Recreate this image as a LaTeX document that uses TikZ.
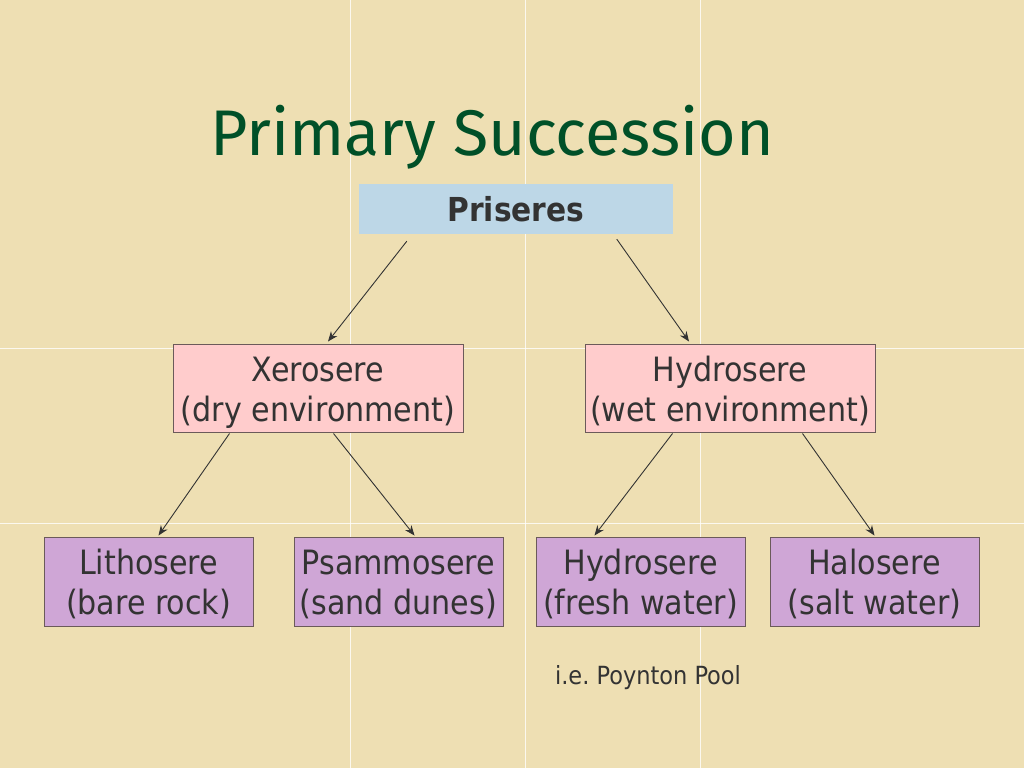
\documentclass[tikz,border=0pt]{standalone}
\usepackage{fontspec}
\setmainfont{DejaVu Sans Condensed}
\newfontfamily\titlefont{Fira Sans}
\usetikzlibrary{arrows.meta,calc}
\definecolor{bg}{HTML}{EEDFB3}
\definecolor{titlegreen}{HTML}{005028}
\definecolor{blueb}{HTML}{BDD7E7}
\definecolor{pinkb}{HTML}{FFCCCC}
\definecolor{purpb}{HTML}{CFA6D6}
\definecolor{txt}{HTML}{333333}
\definecolor{edge}{HTML}{6B5A5A}
\newcommand{\topln}{\rule{0pt}{33pt}}
\newcommand{\botln}{\rule[-7pt]{0pt}{7pt}}
\tikzset{
  box/.style={draw=edge, line width=1pt, inner sep=0pt, align=center, text=txt,
    font=\fontsize{33.5}{40}\selectfont},
  midbox/.style={box, fill=pinkb, minimum width=290pt, minimum height=88pt},
  leafbox/.style={box, fill=purpb, minimum width=209pt, minimum height=89pt},
  conn/.style={draw=txt, line width=0.9pt, -{Stealth[length=10pt,width=8pt]}},
  grid/.style={draw=white, line width=0.8pt, opacity=0.8}
}
\begin{document}
\begin{tikzpicture}[x=1pt,y=-1pt]
\useasboundingbox (0,0) rectangle (1024,768);
\fill[bg] (0,0) rectangle (1024,768);
\foreach \gx in {350,525,700} \draw[grid] (\gx,0) -- (\gx,768);
\foreach \gy in {348,523} \draw[grid] (0,\gy) -- (1024,\gy);

\node[text=titlegreen, font=\titlefont\fontsize{64.5}{70}\selectfont, anchor=base] (title) at (492,155) {Primary Succession};

\node[fill=blueb, minimum width=314pt, minimum height=50pt, inner sep=0pt, text=txt,
  font=\bfseries\fontsize{33}{38}\selectfont] (pri) at (516,209) {Priseres};

\node[midbox] (xer) at (318,388) {\topln Xerosere\\(dry environment)\botln};
\node[midbox] (hyd) at (730,388) {\topln Hydrosere\\(wet environment)\botln};

\node[leafbox] (lit) at (148.5,581.5) {\topln Lithosere\\(bare rock)\botln};
\node[leafbox] (psa) at (398.5,581.5) {\topln Psammosere\\(sand dunes)\botln};
\node[leafbox] (hfw) at (640.5,581.5) {\topln Hydrosere\\(fresh water)\botln};
\node[leafbox] (hal) at (874.5,581.5) {\topln Halosere\\(salt water)\botln};

\node[text=txt, font=\fontsize{25}{30}\selectfont] (note) at (648,678) {i.e.\ Poynton Pool};

\coordinate (p1) at ($(pri.south west)+(48,7)$);
\coordinate (p2) at ($(pri.south west)+(258,5)$);
\coordinate (x1) at ($(xer.south west)+(57,1)$);
\coordinate (x2) at ($(xer.south west)+(161,1)$);
\coordinate (h1) at ($(hyd.south west)+(88,1)$);
\coordinate (h2) at ($(hyd.south west)+(218,1)$);

\draw[conn] (p1) -- ($(xer.north)+(10,-2)$);
\draw[conn] (p2) -- ($(hyd.north)+(-41,-2)$);
\draw[conn] (x1) -- ($(lit.north)+(10,-1)$);
\draw[conn] (x2) -- ($(psa.north)+(16,-1)$);
\draw[conn] (h1) -- ($(hfw.north)+(-46,-1)$);
\draw[conn] (h2) -- ($(hal.north)+(0,-1)$);
\end{tikzpicture}
\end{document}
